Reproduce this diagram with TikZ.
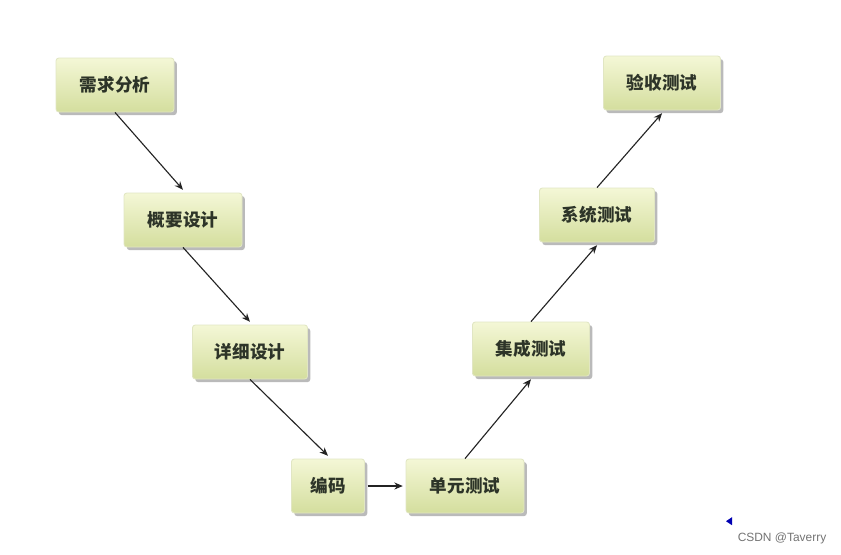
\documentclass[tikz,border=0pt]{standalone}
\usepackage{fontspec}
\newfontfamily\cjk{Noto Sans CJK SC}
\setsansfont{Liberation Sans}
\usetikzlibrary{positioning, arrows.meta, shadows}

\definecolor{boxtop}{RGB}{244,247,214}
\definecolor{boxbot}{RGB}{212,222,158}
\definecolor{boxline}{RGB}{225,230,195}
\definecolor{boxtext}{RGB}{45,52,40}
\definecolor{arrowgray}{RGB}{35,35,35}

\begin{document}
\begin{tikzpicture}[
    stage/.style={draw=boxline, line width=0.6pt, rounded corners=2pt,
        top color=boxtop, bottom color=boxbot,
        minimum width=2.95cm, minimum height=1.35cm, inner sep=0pt,
        font=\cjk\bfseries\fontsize{12.5}{14}\selectfont, text=boxtext,
        drop shadow={shadow xshift=2pt, shadow yshift=-2.2pt, fill=black!45, opacity=0.6}},
    flow/.style={-{Stealth[length=6pt, width=5pt]}, line width=0.8pt, draw=arrowgray},
]
\useasboundingbox (0,0) rectangle (21.025,-13.85);

% left branch
\node[stage] (xqfx) at (2.875,-2.125) {需求分析};
\node[stage] (gysj) at (4.575,-5.5)   {概要设计};
\node[stage, minimum width=2.875cm] (xxsj) at (6.25,-8.8) {详细设计};
\node[stage, minimum width=1.825cm] (bm)   at (8.2,-12.15)  {编码};

% right branch
\node[stage] (dycs) at (11.625,-12.15) {单元测试};
\node[stage, minimum width=2.925cm] (jccs) at (13.275,-8.725) {集成测试};
\node[stage, minimum width=2.875cm] (xtcs) at (14.925,-5.375) {系统测试};
\node[stage, minimum width=2.925cm] (yscs) at (16.55,-2.075)  {验收测试};

\draw[flow] (xqfx.south) -- ([yshift=2pt]gysj.north);
\draw[flow] (gysj.south) -- ([yshift=2pt]xxsj.north);
\draw[flow] (xxsj.south) -- ([yshift=2pt]bm.north);
\draw[flow] ([xshift=2pt]bm.east) -- ([xshift=-2pt]dycs.west);
\draw[flow] (dycs.north) -- ([yshift=-2pt]jccs.south);
\draw[flow] (jccs.north) -- ([yshift=-2pt]xtcs.south);
\draw[flow] (xtcs.north) -- ([yshift=-2pt]yscs.south);

% watermark
\node[font=\sffamily\fontsize{8.5}{10}\selectfont, text=black!55] (mark) at (19.55,-13.45) {CSDN @Taverry};
\fill[blue!70!black] (18.15,-13.03) -- (18.3,-12.93) -- (18.3,-13.13) -- cycle;
\end{tikzpicture}
\end{document}
